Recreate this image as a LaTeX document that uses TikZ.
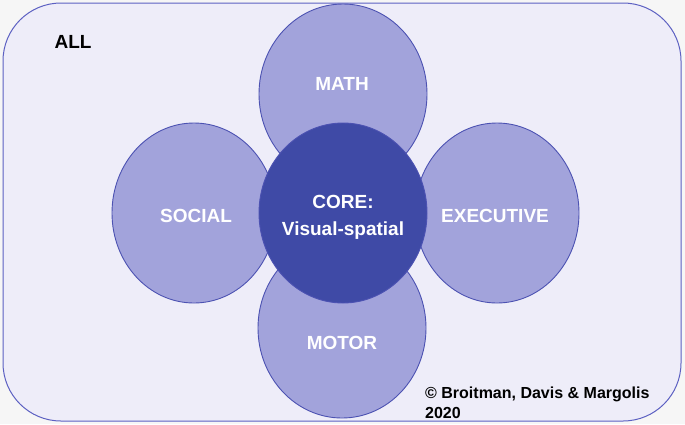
\documentclass[tikz,border=0pt]{standalone}
\usepackage{fontspec}
\setmainfont{Liberation Sans}
\usetikzlibrary{shapes.geometric}
\definecolor{pagegray}{HTML}{F6F6F6}
\definecolor{framefill}{HTML}{EEEDF9}
\definecolor{frameline}{HTML}{5C60C2}
\definecolor{petalfill}{HTML}{A2A3DB}
\definecolor{petalline}{HTML}{4C52B2}
\definecolor{corefill}{HTML}{3F4AA6}

\begin{document}
\begin{tikzpicture}[x=1pt,y=-1pt,
  lbl/.style={font=\bfseries\fontsize{19}{27}\selectfont},
  wlbl/.style={lbl,text=white,align=center},
  petal/.style={ellipse,draw=petalline,line width=0.9pt,fill=petalfill,
    inner sep=0pt,minimum width=164pt,minimum height=180pt},
  corebub/.style={petal,fill=corefill,minimum width=168pt}]
  % page and frame
  \fill[pagegray] (0,0) rectangle (685,424);
  \useasboundingbox (0,0) rectangle (685,424);
  \draw[frameline,fill=framefill,line width=1pt,rounded corners=58pt] (3,3) rectangle (681,421);
  \node[lbl] (all) at (73,42) {ALL};
  % outer domains
  \node[petal] (social) at (194,213) {};
  \node[petal] (exec) at (497,213) {};
  \node[petal,minimum width=168pt] (math) at (343,94) {};
  \node[petal,minimum width=168pt] (motor) at (342,328) {};
  % centre
  \node[corebub] (core) at (343,213) {};
  % labels
  \node[wlbl] (social-t) at (196,216) {SOCIAL};
  \node[wlbl] (exec-t) at (495,216) {EXECUTIVE};
  \node[wlbl] (math-t) at (342,84) {MATH};
  \node[wlbl] (motor-t) at (342,343) {MOTOR};
  \node[wlbl] (core-t) at (343,217) {CORE:\\Visual-spatial};
  \node[anchor=north west,align=left,inner sep=0pt,font=\bfseries\fontsize{16}{20}\selectfont]
    (credit) at (425,387) {© Broitman, Davis \& Margolis\\2020};
\end{tikzpicture}
\end{document}
